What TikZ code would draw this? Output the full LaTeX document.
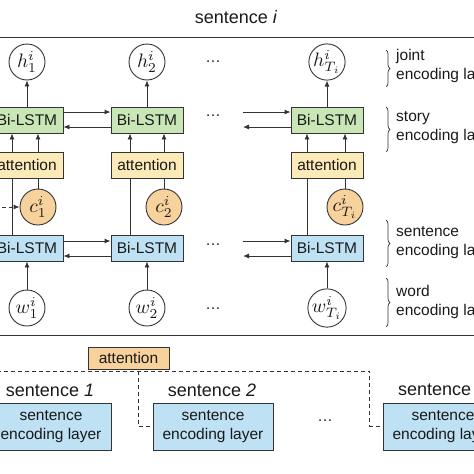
\documentclass[tikz,border=0pt]{standalone}
\usepackage[no-math]{fontspec}
\setmainfont{Liberation Sans}
\usetikzlibrary{arrows.meta,decorations.pathreplacing,calc}
\definecolor{lnc}{HTML}{333333}
\definecolor{txc}{HTML}{1A1A1A}
\definecolor{grn}{HTML}{C8E6B6}
\definecolor{blu}{HTML}{BFE1F4}
\definecolor{ylw}{HTML}{FCEAB8}
\definecolor{org}{HTML}{F8D29C}
\newcommand{\ml}[1]{\scalebox{1.95}{$#1$}}
\begin{document}
\begin{tikzpicture}[x=1pt,y=-1pt,
  every node/.style={text=txc},
  nf/.style={font=\fontsize{15.5}{19}\selectfont},
  bigf/.style={font=\fontsize{18}{21}\selectfont},
  lstm/.style={draw=lnc,line width=0.9pt,minimum width=72pt,minimum height=26pt,inner sep=0pt,nf},
  gbox/.style={lstm,fill=grn},
  bbox/.style={lstm,fill=blu},
  abox/.style={lstm,fill=ylw},
  vcirc/.style={circle,draw=lnc,line width=0.9pt,fill=white,minimum size=36pt,inner sep=0pt},
  ccirc/.style={vcirc,fill=org},
  arr/.style={draw=lnc,line width=0.9pt,-{Latex[length=6pt,width=5pt]}},
  ln/.style={draw=lnc,line width=0.9pt},
  dsh/.style={draw=lnc,line width=0.9pt,dash pattern=on 4pt off 3pt},
  brc/.style={draw=lnc,line width=0.7pt,decorate,decoration={brace,amplitude=4pt}},
  lbl/.style={anchor=west,align=left,nf,inner sep=0pt},
  sbox/.style={draw=lnc,line width=0.9pt,fill=blu,minimum width=120pt,minimum height=47pt,inner sep=0pt,align=center,nf},
  dts/.style={nf}
]
\useasboundingbox (0,0) rectangle (474,474);
\clip (0,0) rectangle (474,474);

% title and frame
\node[bigf] (title) at (236,17) {sentence \textit{i}};
\draw[lnc,line width=1pt] (-10,37) rectangle (484,335);

% column line coordinates
\coordinate (l1) at (12,0);
\coordinate (l2) at (130,0);
\coordinate (l3) at (307,0);

% top circles
\node[vcirc] (h1) at (27,62) {\ml{h^{i}_{1}}};
\node[vcirc] (h2) at (147,62) {\ml{h^{i}_{2}}};
\node[vcirc] (h3) at (327,62) {\ml{h^{i}_{T_i}}};

% story Bi-LSTM
\node[gbox] (s1) at (27,120) {Bi-LSTM};
\node[gbox] (s2) at (147,120) {Bi-LSTM};
\node[gbox] (s3) at (327,120) {Bi-LSTM};

% attention
\node[abox] (a1) at (27,165) {attention};
\node[abox] (a2) at (147,165) {attention};
\node[abox] (a3) at (327,165) {attention};

% context circles
\node[ccirc] (c1) at (38,207) {\ml{c^{i}_{1}}};
\node[ccirc] (c2) at (164,207) {\ml{c^{i}_{2}}};
\node[ccirc] (c3) at (345,207) {\ml{c^{i}_{T_i}}};

% sentence Bi-LSTM
\node[bbox] (b1) at (27,248) {Bi-LSTM};
\node[bbox] (b2) at (147,248) {Bi-LSTM};
\node[bbox] (b3) at (327,248) {Bi-LSTM};

% word circles
\node[vcirc] (w1) at (27,308) {\ml{w^{i}_{1}}};
\node[vcirc] (w2) at (147,308) {\ml{w^{i}_{2}}};
\node[vcirc] (w3) at (327,308) {\ml{w^{i}_{T_i}}};

% dots
\node[dts] (d1) at (213,62) {\dots};
\node[dts] (d2) at (213,116) {\dots};
\node[dts] (d3) at (213,245) {\dots};
\node[dts] (d4) at (213,309) {\dots};

% vertical connections
\foreach \i in {1,2,3}{
  \draw[arr] (s\i) -- (h\i);
  \draw[arr] (w\i) -- (b\i);
  \draw[arr] (a\i.north -| l\i) -- (s\i.south -| l\i);
  \draw[arr] (a\i.north -| c\i) -- (s\i.south -| c\i);
  \draw[ln] (b\i.north -| l\i) -- (a\i.south -| l\i);
  \draw[ln] (c\i) -- (c\i |- a\i.south);
}

% horizontal Bi-LSTM arrows
\draw[arr] ([yshift=8pt]s1.east) -- ([yshift=8pt]s2.west);
\draw[arr] ([yshift=-7pt]s2.west) -- ([yshift=-7pt]s1.east);
\draw[arr] ([yshift=7pt]b1.east) -- ([yshift=7pt]b2.west);
\draw[arr] ([yshift=-8pt]b2.west) -- ([yshift=-8pt]b1.east);
\coordinate (r1) at (243,112);
\coordinate (r2) at (243,127);
\coordinate (r3) at (243,241);
\coordinate (r4) at (243,256);
\draw[arr] (r1) -- (r1 -| s3.west);
\draw[arr] (r2 -| s3.west) -- (r2);
\draw[arr] (r3) -- (r3 -| b3.west);
\draw[arr] (r4 -| b3.west) -- (r4);

% dashed input into c1
\coordinate (din) at (-5,207);
\draw[dsh,-{Latex[length=6pt,width=5pt]}] (din) -- (c1);

% braces and labels
\draw[brc] (386,50) -- (386,87);
\node[lbl] (lj) at (396,66) {joint\\encoding layer};
\draw[brc] (386,107) -- (386,152);
\node[lbl] (ls) at (396,128) {story\\encoding layer};
\draw[brc] (386,220) -- (386,267);
\node[lbl] (lse) at (396,243) {sentence\\encoding layer};
\draw[brc] (386,278) -- (386,327);
\node[lbl] (lw) at (396,302) {word\\encoding layer};

% bottom part
\node[sbox] (e1) at (51,426.5) {sentence\\encoding layer};
\node[sbox] (e2) at (213,426.5) {sentence\\encoding layer};
\node[sbox] (e3) at (443,426.5) {sentence\\encoding layer};
\node[bigf] (t1) at (50,390) {sentence \textit{1}};
\node[bigf] (t2) at (212,390) {sentence \textit{2}};
\node[bigf,anchor=west,inner sep=0pt] (t3) at (398,390) {sentence};
\node[dts] (d5) at (325,421) {\dots};

\coordinate (bus) at (-10,371);
\coordinate (drop2) at (138,371);
\draw[dsh] (bus) -| ([xshift=-13pt]e3.west) -- (e3.west);
\draw[dsh] (drop2) |- (e2.west);
\node[draw=lnc,line width=0.9pt,fill=org,minimum width=81pt,minimum height=22pt,inner sep=0pt,nf] (att) at (128.5,358) {attention};
\end{tikzpicture}
\end{document}
